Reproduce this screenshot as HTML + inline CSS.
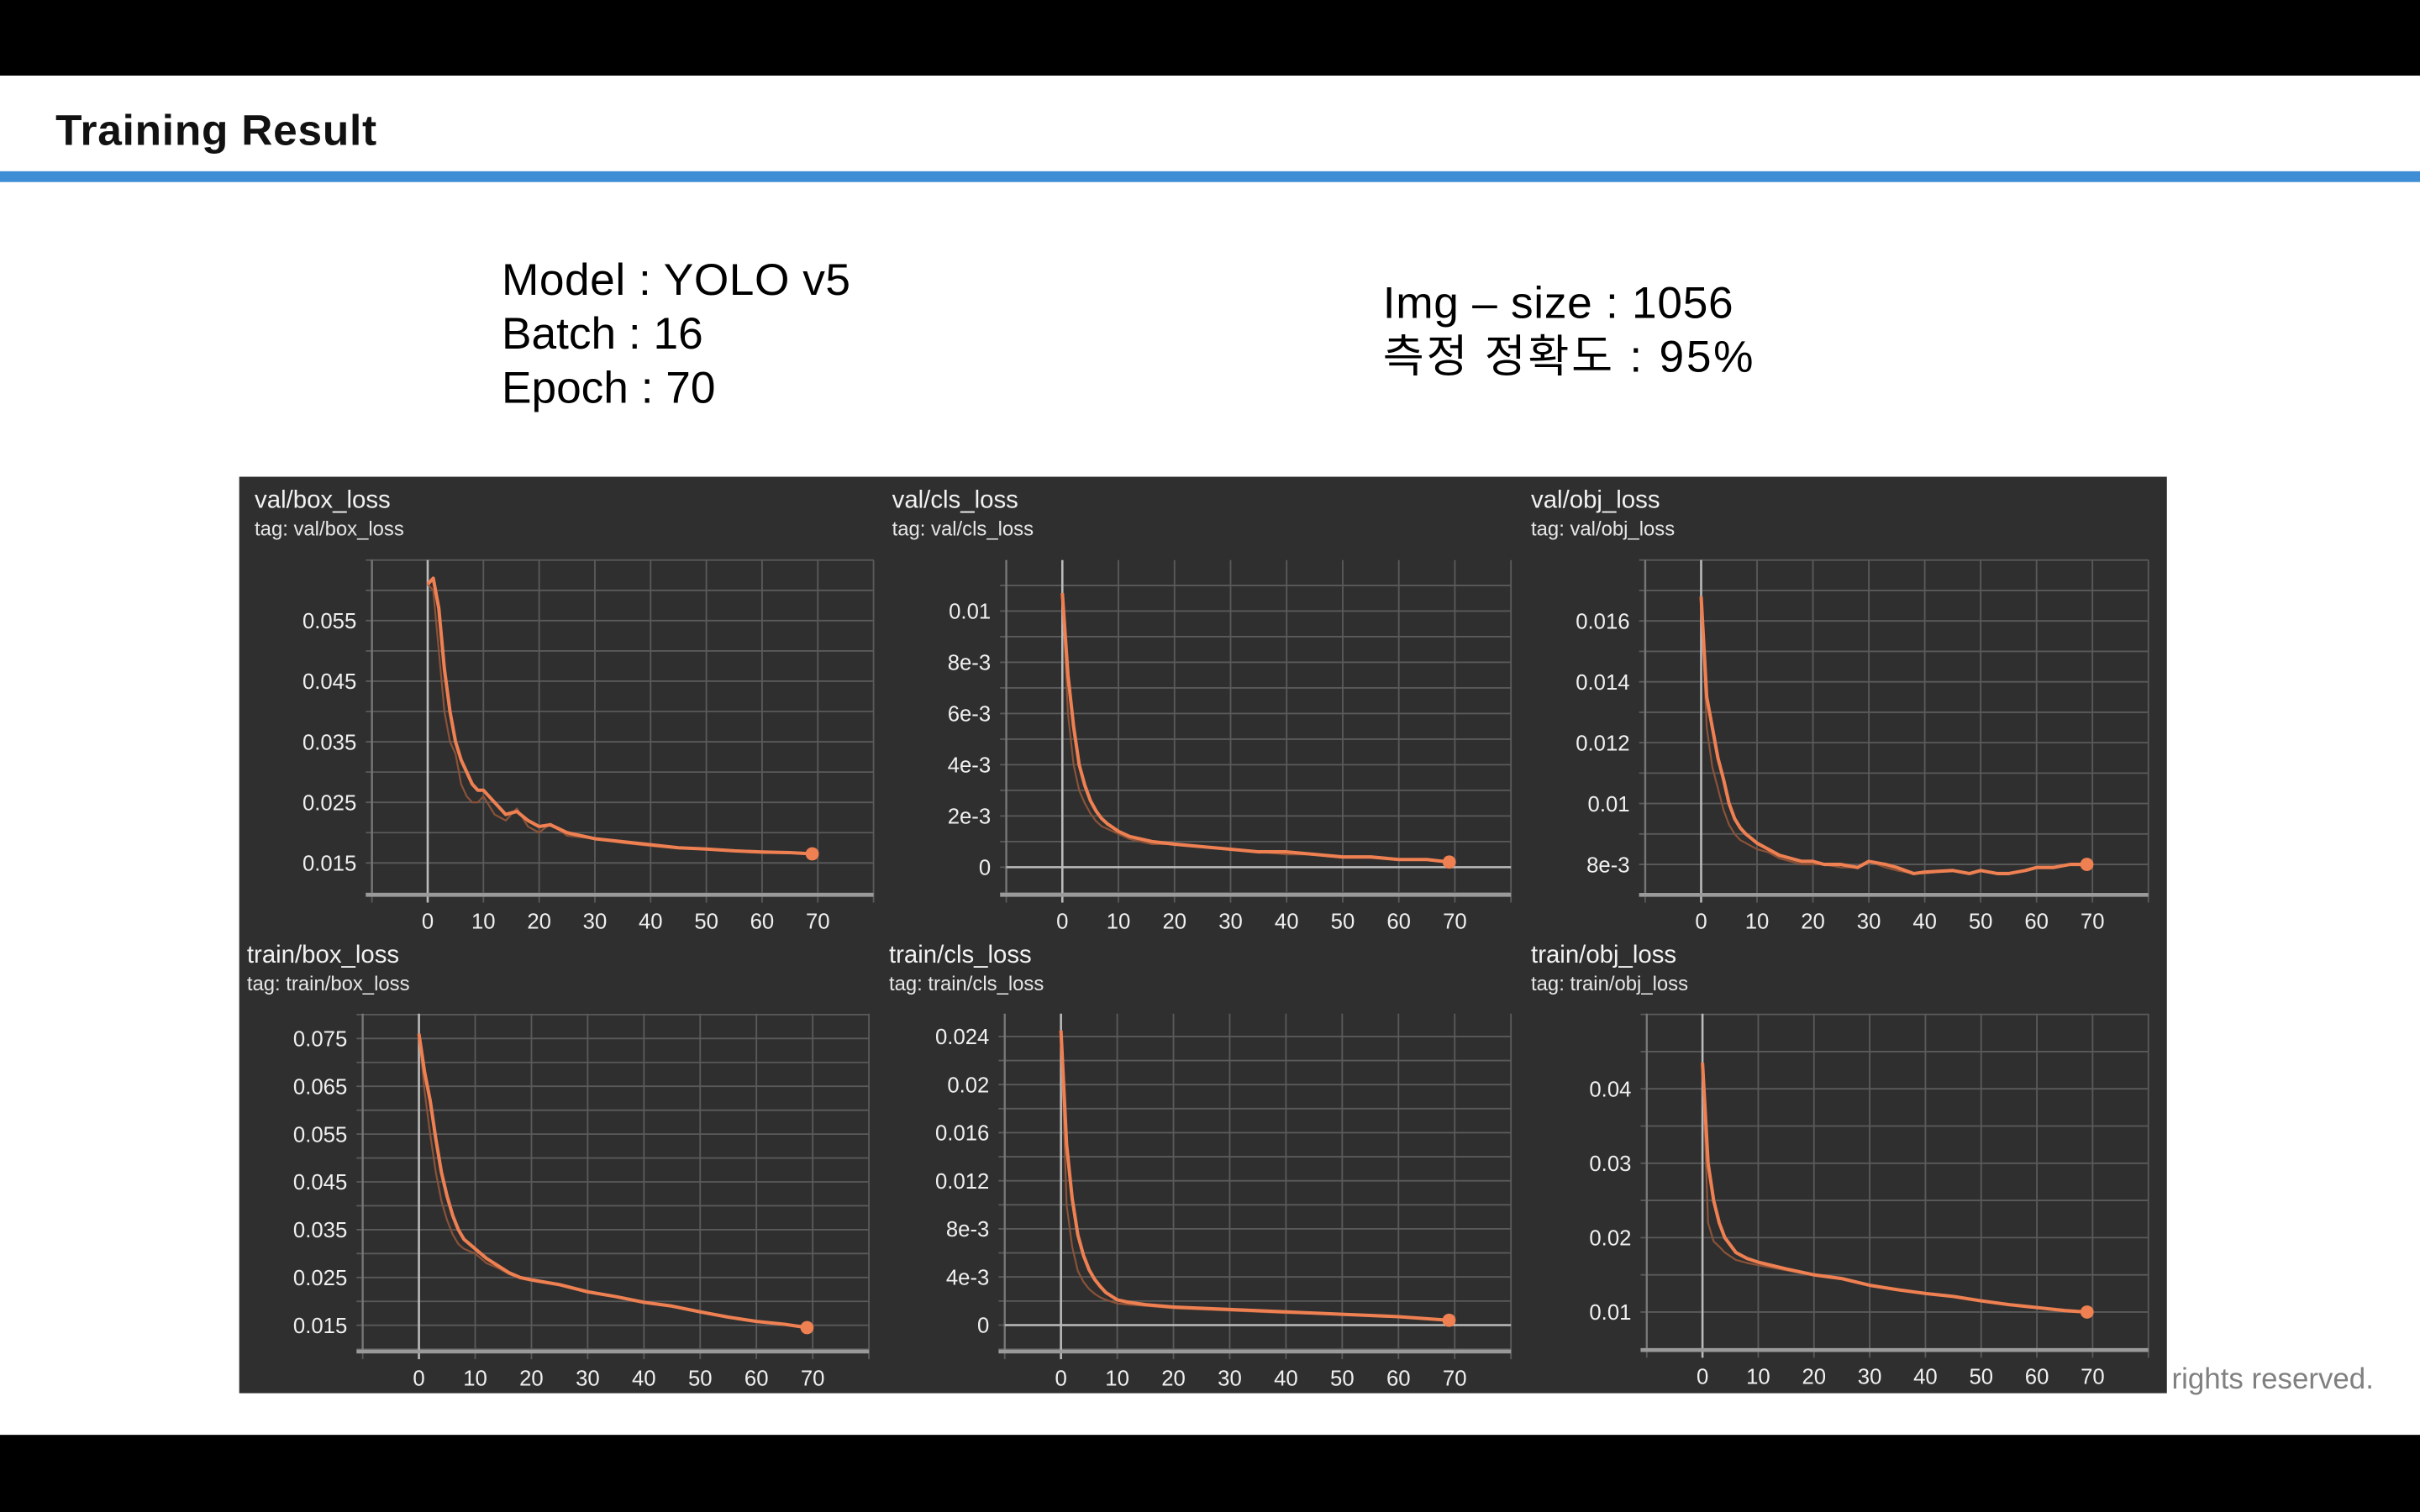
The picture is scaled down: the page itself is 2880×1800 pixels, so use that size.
<!DOCTYPE html>
<html><head><meta charset="utf-8"><style>
html,body{margin:0;padding:0;background:#fff;}
svg{display:block;}
</style></head><body>
<svg id="root" width="2880" height="1800" viewBox="0 0 1568 980" xmlns="http://www.w3.org/2000/svg" font-family="'Liberation Sans','Noto Sans CJK KR',sans-serif">
<rect x="0" y="0" width="1568" height="980" fill="#fff"/>
<rect x="0" y="0" width="1568" height="49" fill="#000"/>
<rect x="0" y="930" width="1568" height="50" fill="#000"/>
<text x="36" y="94" font-size="28" font-weight="bold" fill="#111" textLength="208">Training Result</text>
<rect x="0" y="111" width="1568" height="7" fill="#3e8dd5"/>
<g font-size="29" fill="#000">
<text x="325" y="191" textLength="226">Model : YOLO v5</text>
<text x="325" y="226">Batch : 16</text>
<text x="325" y="261">Epoch : 70</text>
<text x="896" y="206" textLength="227">Img – size : 1056</text>
<text x="896" y="241" textLength="240">측정 정확도 : 95%</text>
</g>
<text x="1538" y="900" font-size="19" fill="#808080" text-anchor="end">All rights reserved.</text>
<rect x="155" y="309" width="1249" height="594" fill="#2f2f2f"/>
<g id="charts"></g>
</svg>
<script>
// ---- data (epochs and smoothed / raw loss values) ----
const valBoxEpochs = [0,1,2,3,4,5,6,7,8,9,10,12,14,16,18,20,22,25,30,35,40,45,50,55,60,65,69];
const valBoxValues = [0.061,0.062,0.057,0.047,0.040,0.035,0.032,0.030,0.028,0.027,0.027,0.025,0.023,0.0235,0.022,0.021,0.0213,0.020,0.019,0.0185,0.018,0.0175,0.0173,0.0170,0.0168,0.0167,0.0165];
const valBoxRaw    = [0.061,0.060,0.050,0.040,0.035,0.033,0.028,0.026,0.025,0.025,0.026,0.023,0.022,0.024,0.021,0.020,0.0215,0.0195,0.019,0.0183,0.0178,0.0174,0.0172,0.0169,0.0167,0.0166,0.0165];

const valClsEpochs = [0,1,2,3,4,5,6,7,8,10,12,14,16,20,25,30,35,40,45,50,55,60,65,69];
const valClsValues = [0.0107,0.0075,0.0055,0.0040,0.0032,0.0026,0.0022,0.0019,0.0017,0.0014,0.0012,0.0011,0.0010,0.0009,0.0008,0.0007,0.0006,0.0006,0.0005,0.0004,0.0004,0.0003,0.0003,0.0002];
const valClsRaw    = [0.0107,0.0060,0.0040,0.0030,0.0025,0.0021,0.0018,0.0016,0.0015,0.0013,0.0011,0.0010,0.0009,0.0009,0.0008,0.0007,0.0006,0.0005,0.0005,0.0004,0.0004,0.0003,0.0003,0.0002];

const valObjEpochs = [0,1,2,3,4,5,6,7,8,10,12,14,16,18,20,22,25,28,30,33,35,38,40,45,48,50,53,55,58,60,63,66,69];
const valObjValues = [0.0168,0.0135,0.0125,0.0115,0.0108,0.0100,0.0095,0.0092,0.0090,0.0087,0.0085,0.0083,0.0082,0.0081,0.0081,0.0080,0.0080,0.0079,0.0081,0.0080,0.0079,0.0077,0.00775,0.0078,0.0077,0.0078,0.0077,0.0077,0.0078,0.0079,0.0079,0.0080,0.0080];
const valObjRaw    = [0.0168,0.0125,0.0112,0.0105,0.0098,0.0093,0.0090,0.0088,0.0087,0.0085,0.0084,0.0082,0.0081,0.0080,0.0080,0.0080,0.0079,0.0079,0.0081,0.0079,0.0078,0.0077,0.0077,0.0078,0.0077,0.0078,0.0077,0.0077,0.0078,0.0079,0.0079,0.0080,0.0080];

const trainBoxEpochs = [0,1,2,3,4,5,6,7,8,10,12,14,16,18,20,25,30,35,40,45,50,55,60,65,69];
const trainBoxValues = [0.076,0.068,0.062,0.054,0.047,0.042,0.038,0.035,0.033,0.031,0.029,0.0275,0.026,0.025,0.0245,0.0235,0.022,0.021,0.0198,0.019,0.0178,0.0167,0.0158,0.0152,0.0145];
const trainBoxRaw    = [0.076,0.064,0.055,0.047,0.041,0.037,0.034,0.032,0.031,0.030,0.028,0.027,0.0257,0.0248,0.0243,0.0233,0.0219,0.0209,0.0197,0.0189,0.0177,0.0166,0.0157,0.0151,0.0145];

const trainClsEpochs = [0,1,2,3,4,5,6,7,8,10,12,15,20,30,40,50,60,69];
const trainClsValues = [0.0245,0.0150,0.0105,0.0075,0.0058,0.0046,0.0038,0.0032,0.0027,0.0021,0.0019,0.0017,0.0015,0.0013,0.0011,0.0009,0.0007,0.0004];
const trainClsRaw    = [0.0245,0.0100,0.0065,0.0045,0.0036,0.0030,0.0026,0.0023,0.0021,0.0018,0.0017,0.0016,0.0014,0.0012,0.0010,0.0009,0.0007,0.0004];

const trainObjEpochs = [0,1,2,3,4,5,6,8,10,15,20,25,30,35,40,45,50,55,60,65,69];
const trainObjValues = [0.0435,0.0300,0.0250,0.0220,0.0200,0.0190,0.0180,0.0172,0.0167,0.0158,0.0150,0.0145,0.0136,0.0130,0.0125,0.0121,0.0115,0.0110,0.0106,0.0102,0.0100];
const trainObjRaw    = [0.0435,0.0220,0.0195,0.0188,0.0180,0.0175,0.0170,0.0166,0.0163,0.0156,0.0149,0.0144,0.0135,0.0130,0.0125,0.0121,0.0115,0.0110,0.0106,0.0102,0.0100];

const xTickLabels = ["0","10","20","30","40","50","60","70"];
const valBoxTicks = ["0.015","0.025","0.035","0.045","0.055"];
const valClsTicks = ["0","2e-3","4e-3","6e-3","8e-3","0.01"];
const valObjTicks = ["8e-3","0.01","0.012","0.014","0.016"];
const trainBoxTicks = ["0.015","0.025","0.035","0.045","0.055","0.065","0.075"];
const trainClsTicks = ["0","4e-3","8e-3","0.012","0.016","0.02","0.024"];
const trainObjTicks = ["0.01","0.02","0.03","0.04"];

// ---- layout (positions in viewBox units, not data) ----
const charts = [
 {id:"val-box-loss",title:"val/box_loss",tx:165,ty:329,L:241,R:566,T:363,B:580,y0:0.00973,y1:0.065,grid:0.005,ticks:valBoxTicks,ep:valBoxEpochs,v:valBoxValues,raw:valBoxRaw,zero:false},
 {id:"val-cls-loss",title:"val/cls_loss",tx:578,ty:329,L:652,R:979,T:363,B:580,y0:-0.00108,y1:0.01199,grid:0.001,ticks:valClsTicks,ep:valClsEpochs,v:valClsValues,raw:valClsRaw,zero:true},
 {id:"val-obj-loss",title:"val/obj_loss",tx:992,ty:329,L:1066,R:1392,T:363,B:580,y0:0.007,y1:0.018,grid:0.001,ticks:valObjTicks,ep:valObjEpochs,v:valObjValues,raw:valObjRaw,zero:false},
 {id:"train-box-loss",title:"train/box_loss",tx:160,ty:624,L:235,R:563,T:657,B:876,y0:0.0095,y1:0.0802,grid:0.005,ticks:trainBoxTicks,ep:trainBoxEpochs,v:trainBoxValues,raw:trainBoxRaw,zero:false},
 {id:"train-cls-loss",title:"train/cls_loss",tx:576,ty:624,L:651,R:979,T:657,B:876,y0:-0.0022,y1:0.0259,grid:0.002,ticks:trainClsTicks,ep:trainClsEpochs,v:trainClsValues,raw:trainClsRaw,zero:true},
 {id:"train-obj-loss",title:"train/obj_loss",tx:992,ty:624,L:1067,R:1392,T:657,B:875,y0:0.0049,y1:0.0501,grid:0.005,ticks:trainObjTicks,ep:trainObjEpochs,v:trainObjValues,raw:trainObjRaw,zero:false}
];
const NS="http://www.w3.org/2000/svg";
const host=document.getElementById("charts");
function mk(tag,attrs,parent){const e=document.createElementNS(NS,tag);for(const k in attrs)e.setAttribute(k,attrs[k]);parent.appendChild(e);return e;}
charts.forEach(c=>{
  const g=mk("g",{},host);
  
  
  const xs=v=>c.L+(v+10)/90*(c.R-c.L);
  const ys=v=>c.B-(v-c.y0)/(c.y1-c.y0)*(c.B-c.T);
  const t1=mk("text",{x:c.tx,y:c.ty,"font-size":16,fill:"#f2f2f2"},g);t1.textContent=c.title;
  
  
  const t2=mk("text",{x:c.tx,y:c.ty+18,"font-size":13,fill:"#e6e6e6"},g);t2.textContent="tag: "+c.title;
  
  
  const start=Math.ceil(c.y0/c.grid)*c.grid;
  for(let v=start; v<=c.y1+1e-12; v+=c.grid){
    const y=ys(v);
    const l=mk("line",{x1:c.L-4,x2:c.R,y1:y,y2:y,stroke:"#5a5a5a","stroke-width":1},g);
    
    
  }
  for(let x=-10;x<=80;x+=10){
    const X=xs(x);
    const l=mk("line",{x1:X,x2:X,y1:c.T,y2:c.B+5,stroke:x===0?"#bbbbbb":"#5a5a5a","stroke-width":x===0?1.4:1},g);
    
    
  }
  const ax=mk("line",{x1:c.L,x2:c.L,y1:c.T,y2:c.B,stroke:"#777","stroke-width":1.3},g);
  
  
  const bx=mk("line",{x1:c.L-4,x2:c.R,y1:c.B,y2:c.B,stroke:"#9a9a9a","stroke-width":2.5},g);
  
  
  if(c.zero){
    const z=mk("line",{x1:c.L,x2:c.R,y1:ys(0),y2:ys(0),stroke:"#bbbbbb","stroke-width":1.4},g);
    
    
  }
  c.ticks.forEach(lbl=>{
    const v=parseFloat(lbl);
    const t=mk("text",{x:c.L-10,y:ys(v)+5,"font-size":14,fill:"#f0f0f0","text-anchor":"end"},g);
    t.textContent=lbl;
    
    
  });
  xTickLabels.forEach(lbl=>{
    const t=mk("text",{x:xs(+lbl),y:c.B+22,"font-size":14,fill:"#f0f0f0","text-anchor":"middle"},g);
    t.textContent=lbl;
    
    
  });
  const rp=c.ep.map((e,i)=>(i?"L":"M")+xs(e).toFixed(2)+","+ys(c.raw[i]).toFixed(2)).join("");
  const r=mk("path",{d:rp,fill:"none",stroke:"#8a5238","stroke-width":1.2,"stroke-linejoin":"round"},g);
  
  
  const sp=c.ep.map((e,i)=>(i?"L":"M")+xs(e).toFixed(2)+","+ys(c.v[i]).toFixed(2)).join("");
  const s=mk("path",{d:sp,fill:"none",stroke:"#ef8052","stroke-width":2.2,"stroke-linejoin":"round"},g);
  
  
  const n=c.ep.length-1;
  const d=mk("circle",{cx:xs(c.ep[n]),cy:ys(c.v[n]),r:4.3,fill:"#ef8052"},g);
  
  
});
</script>
</body></html>
